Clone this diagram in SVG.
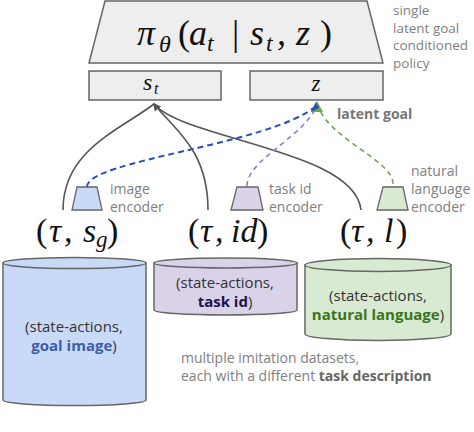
<svg xmlns="http://www.w3.org/2000/svg" width="474" height="432" viewBox="0 0 474 432">
<style>
.box{fill:#eeeeee;stroke:#666666;stroke-width:1.5}
.math{font-family:"Liberation Serif","DejaVu Serif",serif;font-style:italic;fill:#111}
.up{font-style:normal}
.lbl{font-family:"Open Sans","Liberation Sans",sans-serif;font-size:14px;fill:#808080}
.ds{font-family:"Open Sans","Liberation Sans",sans-serif;font-size:15px;fill:#333;text-anchor:middle}
.conn{fill:none;stroke:#555;stroke-width:1.6}
.cyl{stroke:#666;stroke-width:1.5}
</style>
<defs>
<marker id="ag" viewBox="0 0 10 10" refX="5" refY="2" markerWidth="8" markerHeight="8" orient="auto-start-reverse" markerUnits="userSpaceOnUse"><path d="M0,10 L5,0 L10,10 Z" fill="#555"/></marker>
</defs>
<rect width="474" height="432" fill="#fff"/>
<g id="policy">
<path class="box" d="M105,1 L367,1 L383,63 L89,63 Z"/>
<text class="math" font-size="36"><tspan x="137" y="45">π</tspan><tspan x="159" y="52" font-size="24">θ</tspan><tspan class="up" x="178" y="45">(</tspan><tspan x="189" y="45">a</tspan><tspan x="207" y="51" font-size="24">t</tspan><tspan class="up" x="232" y="45">|</tspan><tspan x="250" y="45">s</tspan><tspan x="266" y="51" font-size="24">t</tspan><tspan x="277" y="45">,</tspan><tspan x="296" y="45">z</tspan><tspan class="up" x="320" y="45">)</tspan></text>
<g font-size="13.5px">
<text class="lbl" x="393" y="15" style="font-size:13.5px">single</text>
<text class="lbl" x="393" y="32.5" style="font-size:13.5px">latent goal</text>
<text class="lbl" x="393" y="50" style="font-size:13.5px">conditioned</text>
<text class="lbl" x="393" y="67.5" style="font-size:13.5px">policy</text>
</g>
</g>
<g id="st">
<rect class="box" x="89" y="71" width="132" height="29"/>
<text class="math" font-size="24"><tspan x="143" y="90">s</tspan><tspan x="154" y="94" font-size="16">t</tspan></text>
</g>
<g id="z">
<rect class="box" x="250" y="71" width="133" height="29"/>
<text class="math" x="316" y="91" text-anchor="middle" font-size="23">z</text>
</g>
<g id="connectors">
<path class="conn" d="M63,210 C63,150 120,130 154,104" marker-end="url(#ag)"/>
<path class="conn" d="M208,210 C208,150 175,130 154,104"/>
<path class="conn" d="M361,210 C355,150 185,140 154,104"/>
<path d="M393,184 C393,160 330,140 318,106" fill="none" stroke="#6aa84f" stroke-width="1.6" stroke-dasharray="5,4"/>
<path d="M247,186 C247,160 300,140 317,106" fill="none" stroke="#8e7cc3" stroke-width="1.6" stroke-dasharray="5,4"/>
<path d="M87,187 C87,160 270,145 316,106" fill="none" stroke="#2850b8" stroke-width="2" stroke-dasharray="6,4"/>
<path d="M311,112 L317,101 L323,112 Z" fill="#6aa84f"/>
<path d="M311,112 L316,102 L319,108 Z" fill="#2850b8"/>
<text x="337" y="119" font-family="'Open Sans','Liberation Sans',sans-serif" font-size="14" font-weight="bold" fill="#777">latent goal</text>
</g>
<g id="image-encoder">
<path d="M77,187 L97,187 L102,210 L72,210 Z" fill="#c9daf8" stroke="#666" stroke-width="1.3"/>
<text class="lbl" x="110" y="194">image</text>
<text class="lbl" x="110" y="212">encoder</text>
</g>
<g id="task-encoder">
<path d="M237,187 L258,187 L263,210 L231,210 Z" fill="#d9d2e9" stroke="#666" stroke-width="1.3"/>
<text class="lbl" x="269" y="194">task id</text>
<text class="lbl" x="269" y="212">encoder</text>
</g>
<g id="lang-encoder">
<path d="M383,187 L403,187 L408,210 L377,210 Z" fill="#d9ead3" stroke="#666" stroke-width="1.3"/>
<text class="lbl" x="411" y="176">natural</text>
<text class="lbl" x="411" y="194">language</text>
<text class="lbl" x="411" y="212">encoder</text>
</g>
<g id="inputs">
<text class="math" font-size="34"><tspan class="up" x="36" y="242">(</tspan><tspan x="49" y="242">τ</tspan><tspan x="64" y="242">,</tspan><tspan x="83" y="242">s</tspan><tspan x="96" y="247" font-size="23">g</tspan><tspan class="up" x="107" y="242">)</tspan></text>
<text class="math" font-size="34"><tspan class="up" x="188" y="242">(</tspan><tspan x="200" y="242">τ</tspan><tspan x="215" y="242">,</tspan><tspan x="231" y="242">id</tspan><tspan class="up" x="257" y="242">)</tspan></text>
<text class="math" font-size="34"><tspan class="up" x="340" y="242">(</tspan><tspan x="351" y="242">τ</tspan><tspan x="366" y="242">,</tspan><tspan x="384" y="242">l</tspan><tspan class="up" x="396" y="242">)</tspan></text>
</g>
<g id="ds-image">
<path class="cyl" fill="#c9daf8" d="M3,263 L3,400 A71.5,5.5 0 0 0 146,400 L146,263 Z"/>
<ellipse class="cyl" fill="#c9daf8" cx="74.5" cy="263" rx="71.5" ry="5.5"/>
<text class="ds" x="74" y="332">(state-actions,</text>
<text class="ds" x="74" y="351"><tspan font-weight="bold" fill="#3d5ea6">goal image</tspan>)</text>
</g>
<g id="ds-task">
<path class="cyl" fill="#d9d2e9" d="M154,263 L154,310 A71.5,5 0 0 0 297,310 L297,263 Z"/>
<ellipse class="cyl" fill="#d9d2e9" cx="225.5" cy="263" rx="71.5" ry="5"/>
<text class="ds" x="225" y="288">(state-actions,</text>
<text class="ds" x="225" y="307"><tspan font-weight="bold" fill="#20124d">task id</tspan>)</text>
</g>
<g id="ds-lang">
<path class="cyl" fill="#d9ead3" d="M305,265 L305,334 A73,6.5 0 0 0 451,334 L451,265 Z"/>
<ellipse class="cyl" fill="#d9ead3" cx="378" cy="265" rx="73" ry="6.5"/>
<text class="ds" x="378" y="301">(state-actions,</text>
<text class="ds" x="378" y="320"><tspan font-weight="bold" fill="#38761d">natural language</tspan>)</text>
</g>
<g id="caption">
<text class="lbl" x="181" y="363">multiple imitation datasets,</text>
<text class="lbl" x="181" y="381">each with a different <tspan font-weight="bold" fill="#666">task description</tspan></text>
</g>
</svg>
